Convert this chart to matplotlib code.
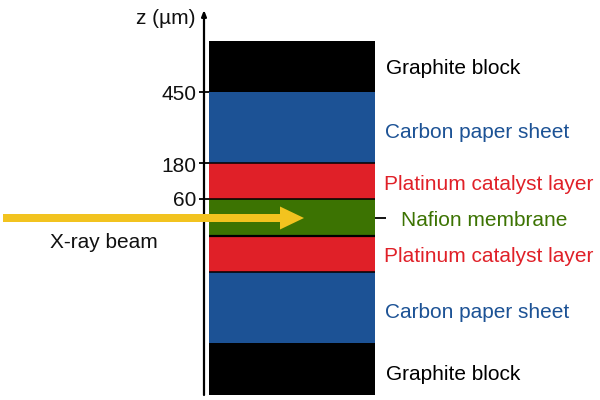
import matplotlib
matplotlib.use("Agg")
import matplotlib.pyplot as plt
from matplotlib.patches import Rectangle, FancyArrow

plt.rcParams['font.family'] = ['Liberation Sans', 'DejaVu Sans']

layer_names = ["Graphite block", "Carbon paper sheet", "Platinum catalyst layer", "Nafion membrane",
               "Platinum catalyst layer", "Carbon paper sheet", "Graphite block"]
layer_colors = ["#000000", "#1C5295", "#E02028", "#3C7302", "#E02028", "#1C5295", "#000000"]
text_colors = ["#000000", "#1C5295", "#E02028", "#3C7302", "#E02028", "#1C5295", "#000000"]
layer_tops = [177, 126, 55, 19, -18, -54, -125]
layer_bottoms = [126, 55, 19, -18, -54, -125, -177]
label_z = [151, 87, 35, 0, -36, -93, -154]
label_x = [386, 385, 384, 401, 384, 385, 386]
tick_z = [126, 55, 19]
tick_label_z = [123, 52, 18]
tick_labels = ["450", "180", "60"]
FS = 15

fig = plt.figure(figsize=(6, 4), dpi=100)
ax = fig.add_axes([0, 0, 1, 1])
ax.set_xlim(0, 600)
ax.set_ylim(-182, 218)
ax.axis("off")

for top, bot, col in zip(layer_tops, layer_bottoms, layer_colors):
    ax.add_patch(Rectangle((209, bot), 166, top - bot, facecolor=col, edgecolor="none", zorder=2))
for b in layer_bottoms[1:-2]:
    ax.plot([209, 375], [b, b], color="black", lw=1.1, zorder=3, solid_capstyle="butt")
ax.plot([209, 375], [-18, -18], color="black", lw=1.6, zorder=3, solid_capstyle="butt")

# z axis
ax.annotate("", xy=(204, 208), xytext=(204, -177),
            arrowprops=dict(arrowstyle="-|>,head_width=0.14,head_length=0.35", color="black", lw=1.6,
                            shrinkA=0, shrinkB=0))
ax.text(195, 200, "z (µm)", ha="right", va="center", fontsize=FS, color="#111111")
for z, lz, lab in zip(tick_z, tick_label_z, tick_labels):
    ax.plot([199, 209], [z, z], color="black", lw=1.3, zorder=3, solid_capstyle="butt")
    ax.text(196, lz, lab, ha="right", va="center", fontsize=FS, color="#111111")

# tick toward Nafion label
ax.plot([375, 386], [0, 0], color="black", lw=1.3, solid_capstyle="butt")

for n, z, x, c in zip(layer_names, label_z, label_x, text_colors):
    ax.text(x, z - 2, n, ha="left", va="center", fontsize=FS, color=c)

# X-ray beam
ax.add_patch(FancyArrow(3, 0, 301, 0, width=8, head_width=23, head_length=24,
                        length_includes_head=True, facecolor="#F2C31F", edgecolor="none", zorder=4))
ax.text(104, -24, "X-ray beam", ha="center", va="center", fontsize=FS, color="#111111")

fig.savefig("out.png", dpi=100)
